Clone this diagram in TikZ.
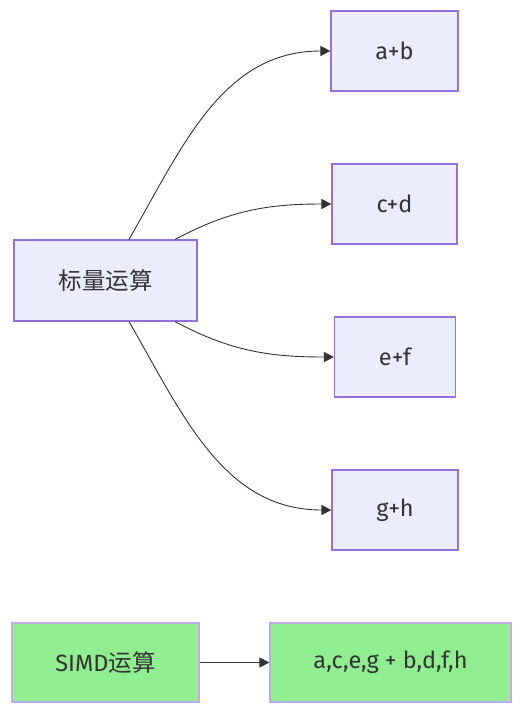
\documentclass[tikz,border=0pt]{standalone}
\usepackage{fontspec}
\setmainfont{Fira Sans}
\newfontfamily\cjk{Noto Sans CJK SC}
\usetikzlibrary{calc,arrows.meta}

\definecolor{opfill}{HTML}{ECECFF}
\definecolor{opline}{HTML}{9370DB}
\definecolor{simdfill}{HTML}{90EE90}
\definecolor{edgeline}{HTML}{333333}

\begin{document}
\begin{tikzpicture}[x=1pt,y=-1pt,
	opbox/.style={draw=opline,fill=opfill,line width=1.2pt,inner sep=0pt,
		minimum height=80pt,text=edgeline,font=\fontsize{23.5}{28}\selectfont},
	simdbox/.style={opbox,fill=simdfill,draw=opline!60,minimum height=79pt},
	edge/.style={draw=edgeline,line width=0.9pt,-{Triangle[length=10pt,width=10pt]}}]
\useasboundingbox (0,0) rectangle (528,715);

% left side
\node[opbox,minimum width=183pt,minimum height=81pt] (scalar) at (105.5,280.5) {\cjk 标量运算};

% sums
\node[opbox,minimum width=127pt] (ab) at (394.5,51) {a+b};
\node[opbox,minimum width=125pt] (cd) at (394.5,204) {c+d};
\node[opbox,minimum width=121pt] (ef) at (395,357) {e+f};
\node[opbox,minimum width=126pt] (gh) at (395,510) {g+h};

% simd row
\node[simdbox,minimum width=187pt] (simd) at (105.5,662.5) {SIMD{\cjk 运算}};
\node[simdbox,minimum width=241pt] (all) at (390.5,662.5) {a,c,e,g + b,d,f,h};

\def\outerofs{23.5}
\def\innerofs{69.5}

% lines
\draw[edge] ($(scalar.north)+(\outerofs,0)$) to[out=60,in=180] (ab.west);
\draw[edge] ($(scalar.north)+(\innerofs,0)$) to[out=28,in=180] (cd.west);
\draw[edge] ($(scalar.south)+(\innerofs,0)$) to[out=-28,in=180] (ef.west);
\draw[edge] ($(scalar.south)+(\outerofs,0)$) to[out=-60,in=180] (gh.west);
\draw[edge] (simd) -- (all);

\end{tikzpicture}
\end{document}
